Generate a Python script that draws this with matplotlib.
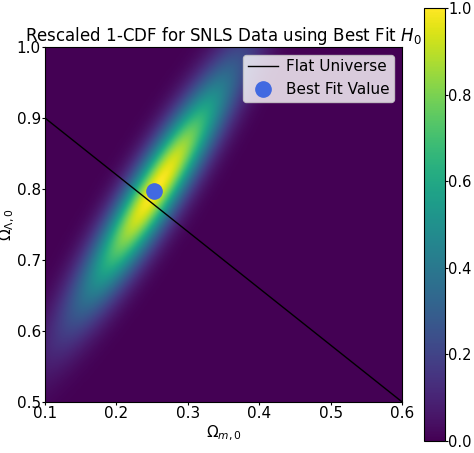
import numpy as np
import matplotlib
matplotlib.use("Agg")
import matplotlib.pyplot as plt

om_range = [0.1, 0.6]
ol_range = [0.5, 1.0]
best_fit = [0.252, 0.797]
peak_center = [0.255, 0.80]
axis_angle_deg = 58.0
sigma_along = 0.13
sigma_across = 0.024
flat_om = [0.1, 0.6]
flat_ol = [0.9, 0.5]

om = np.linspace(*om_range, 400)
ol = np.linspace(*ol_range, 400)
X, Y = np.meshgrid(om, ol)
a = np.deg2rad(axis_angle_deg)
dx, dy = X - peak_center[0], Y - peak_center[1]
u = dx*np.cos(a) + dy*np.sin(a)
v = -dx*np.sin(a) + dy*np.cos(a)
Z = np.exp(-0.5*((u/sigma_along)**2 + (v/sigma_across)**2))

fig = plt.figure(figsize=(4.74, 4.53), dpi=100)
ax = fig.add_axes([0.095, 0.113, 0.753, 0.783])
im = ax.imshow(Z, origin='lower', extent=om_range+ol_range, cmap='viridis', vmin=0, vmax=1, aspect='auto')
ax.plot(flat_om, flat_ol, color='black', lw=1, label='Flat Universe')
ax.plot(best_fit[0], best_fit[1], 'o', color='royalblue', ms=11, label='Best Fit Value', linestyle='none')
ax.set_xlim(om_range); ax.set_ylim(ol_range)
ax.set_xticks([0.1,0.2,0.3,0.4,0.5,0.6]); ax.set_yticks([0.5,0.6,0.7,0.8,0.9,1.0])
ax.tick_params(labelsize=11, length=2, pad=1)
ax.set_xlabel(r'$\Omega_{m,0}$', fontsize=11, labelpad=2)
ax.set_ylabel(r'$\Omega_{\Lambda,0}$', fontsize=11, labelpad=0)
ax.set_title(r'Rescaled 1-CDF for SNLS Data using Best Fit $H_0$', fontsize=12, pad=2)
ax.legend(loc='upper right', fontsize=11, borderpad=0.3, handletextpad=0.5)
cax = fig.add_axes([0.894, 0.027, 0.044, 0.955])
cb = fig.colorbar(im, cax=cax)
cb.ax.tick_params(labelsize=10.5, length=2, pad=0.5)
fig.savefig('out.png', dpi=100)
